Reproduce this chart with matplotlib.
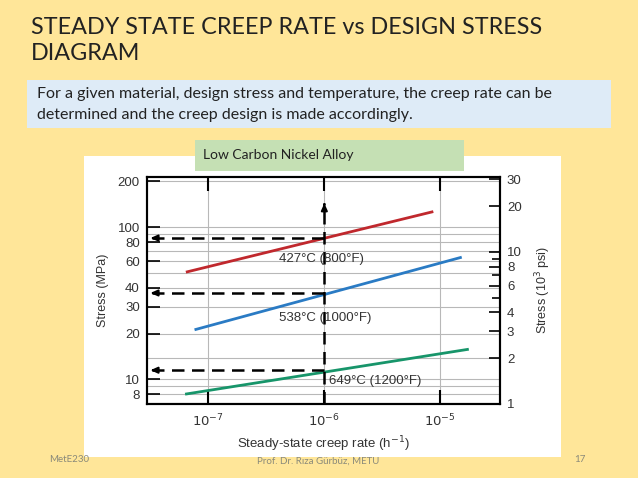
import matplotlib
matplotlib.use("Agg")
import matplotlib.pyplot as plt
from matplotlib.patches import Rectangle
from matplotlib.ticker import FixedLocator, NullFormatter, FixedFormatter, NullLocator

# ---- data ----
rate_427 = [6.4e-8, 8.7e-6]
stress_427 = [50.7, 126.8]
rate_538 = [7.6e-8, 1.53e-5]
stress_538 = [21.2, 63.6]
rate_649 = [6.3e-8, 1.76e-5]
stress_649 = [8.0, 15.8]
design_rate = 1e-6
design_stress = [85, 37, 11.5]
design_top = 150
labels = ["427\u00b0C (800\u00b0F)", "538\u00b0C (1000\u00b0F)", "649\u00b0C (1200\u00b0F)"]
label_pos = [(4.1e-7, 61.6), (4.1e-7, 25.2), (1.1e-6, 9.74)]
left_ticks = [8, 10, 20, 30, 40, 60, 80, 100, 200]
right_ticks = [1, 2, 3, 4, 6, 8, 10, 20, 30]
right_minor = [5, 7, 9]
x_ticks = [1e-7, 1e-6, 1e-5]
x_labels = ["$10^{-7}$", "$10^{-6}$", "$10^{-5}$"]
grid_mpa = [7, 8, 9, 10, 20, 30, 40, 50, 60, 70, 80, 90, 100, 200]
MPA_PER_KSI = 6.895

BG = "#FFE699"
fig = plt.figure(figsize=(6.38, 4.78), dpi=100, facecolor=BG)

slide_font = ["Lato", "DejaVu Sans"]
chart_font = ["Liberation Sans", "DejaVu Sans"]

# slide elements
fig.text(31/638, 1-27/478, "STEADY STATE CREEP RATE vs DESIGN STRESS", fontsize=16.8,
         family=slide_font, va="center", ha="left", color="#222222")
fig.text(31/638, 1-54/478, "DIAGRAM", fontsize=16.8, family=slide_font,
         va="center", ha="left", color="#222222")
fig.patches.append(Rectangle((27/638, 1-128/478), 584/638, 48/478, transform=fig.transFigure,
                             facecolor="#DEEBF7", edgecolor="none", zorder=-3))
fig.text(37/638, 1-94/478, "For a given material, design stress and temperature, the creep rate can be",
         fontsize=11.5, family=slide_font, va="center", ha="left", color="#222222")
fig.text(37/638, 1-115/478, "determined and the creep design is made accordingly.",
         fontsize=11.5, family=slide_font, va="center", ha="left", color="#222222")
fig.patches.append(Rectangle((84/638, 1-457/478), 477/638, 301/478, transform=fig.transFigure,
                             facecolor="white", edgecolor="none", zorder=-3))
fig.patches.append(Rectangle((195/638, 1-171/478), 269/638, 31/478, transform=fig.transFigure,
                             facecolor="#C5E0B4", edgecolor="none", zorder=-2))
fig.text(203/638, 1-155/478, "Low Carbon Nickel Alloy", fontsize=10, family=slide_font,
         va="center", ha="left", color="#222222", zorder=2)
fig.text(49/638, 1-460/478, "MetE230", fontsize=7, family=slide_font, va="center", ha="left", color="#8a8a7a")
fig.text(318/638, 1-461/478, "Prof. Dr. R\u0131za G\u00fcrb\u00fcz, METU", fontsize=7, family=slide_font,
         va="center", ha="center", color="#8a8a7a")
fig.text(586/638, 1-460/478, "17", fontsize=7, family=slide_font, va="center", ha="right", color="#8a8a7a")

# chart
ax = fig.add_axes([146.7/638, 1-404/478, 353.3/638, 227.3/478])
ax.set_facecolor("none")
ax.set_xscale("log")
ax.set_yscale("log")
xlo, xhi = 2.94e-8, 3.27e-5
ylo, yhi = 6.895, 215
ax.set_xlim(xlo, xhi)
ax.set_ylim(ylo, yhi)

for g in grid_mpa:
    ax.axhline(g, color="#b8b8b8", lw=0.8, zorder=1)
ax.axhline(2 * MPA_PER_KSI, color="#b8b8b8", lw=0.8, zorder=1)
for g in x_ticks:
    ax.axvline(g, color="#b8b8b8", lw=0.8, zorder=1)

ax.plot(rate_427, stress_427, color="#C0282D", lw=2, solid_capstyle="butt", zorder=3)
ax.plot(rate_538, stress_538, color="#2A7BC4", lw=2, solid_capstyle="butt", zorder=3)
ax.plot(rate_649, stress_649, color="#17956A", lw=2, solid_capstyle="butt", zorder=3)

# design construction lines
ax.plot([design_rate, design_rate], [ylo, design_top * 0.96], color="black", lw=1.8,
        dashes=(5, 3), zorder=4)
ax.annotate("", xy=(design_rate, design_top), xytext=(design_rate, design_top * 0.9),
            arrowprops=dict(arrowstyle="-|>,head_length=0.4,head_width=0.18", color="black", lw=1.5),
            zorder=5)
for s in design_stress:
    ax.plot([design_rate, xlo * 1.12], [s, s], color="black", lw=1.8, dashes=(5, 3), zorder=4)
    ax.annotate("", xy=(xlo * 1.02, s), xytext=(xlo * 1.25, s),
                arrowprops=dict(arrowstyle="-|>,head_length=0.4,head_width=0.18", color="black", lw=1.5),
                zorder=5)

for (xp, yp), t in zip(label_pos, labels):
    ax.text(xp, yp, t, fontsize=9.5, family=chart_font, color="#333333", va="center", ha="left",
            zorder=6)

ax.yaxis.set_major_locator(FixedLocator(left_ticks))
ax.yaxis.set_major_formatter(FixedFormatter([str(v) for v in left_ticks]))
ax.yaxis.set_minor_locator(NullLocator())
ax.xaxis.set_major_locator(FixedLocator(x_ticks))
ax.xaxis.set_major_formatter(FixedFormatter(x_labels))
ax.xaxis.set_minor_locator(NullLocator())
ax.tick_params(axis="y", which="major", direction="in", length=9, width=1.2, labelsize=9.5,
               labelcolor="#333333", pad=5)
ax.tick_params(axis="x", which="major", direction="in", length=10, width=1.5, labelsize=9.5,
               labelcolor="#333333", top=True, pad=6)
for lab in ax.get_xticklabels() + ax.get_yticklabels():
    lab.set_family(chart_font)
for sp in ax.spines.values():
    sp.set_linewidth(1.5)

ax.set_ylabel("Stress (MPa)", fontsize=9, family=chart_font, color="#333333", labelpad=6)
ax.set_xlabel("Steady-state creep rate (h$^{-1}$)", fontsize=9.5, family=chart_font,
              color="#333333", labelpad=4)

ax2 = ax.twinx()
ax2.set_yscale("log")
ax2.set_ylim(ylo / MPA_PER_KSI, yhi / MPA_PER_KSI)
ax2.yaxis.set_major_locator(FixedLocator(right_ticks))
ax2.yaxis.set_major_formatter(FixedFormatter([str(v) for v in right_ticks]))
ax2.yaxis.set_minor_locator(FixedLocator(right_minor))
ax2.yaxis.set_minor_formatter(NullFormatter())
ax2.tick_params(axis="y", which="major", direction="in", length=8, width=1.2, labelsize=9.5,
                labelcolor="#333333", pad=5)
ax2.tick_params(axis="y", which="minor", direction="in", length=6, width=1.2)
for lab in ax2.get_yticklabels():
    lab.set_family(chart_font)
for sp in ax2.spines.values():
    sp.set_linewidth(1.5)
ax2.set_ylabel("Stress (10$^3$ psi)", fontsize=9, family=chart_font, color="#333333", labelpad=8)

fig.savefig("out.png", dpi=100, facecolor=BG)
